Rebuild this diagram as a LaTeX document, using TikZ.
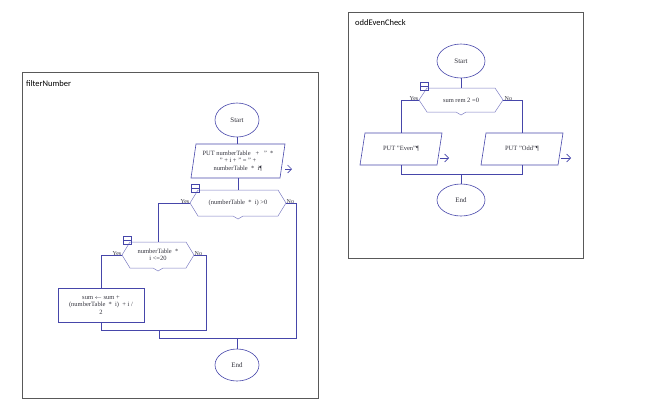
\documentclass[tikz,border=0pt]{standalone}
\usepackage{fontspec}
\setmainfont{Liberation Serif}
\newfontfamily\ttl{Carlito}
\usetikzlibrary{shapes.geometric,calc,arrows.meta}
\definecolor{fl}{RGB}{70,70,170}
\definecolor{tx}{RGB}{50,50,60}
\tikzset{
 x=1pt,y=-1pt,
 line/.style={draw=fl,line width=0.6pt},
 term/.style={ellipse,draw=fl,line width=0.6pt,text=tx,font=\fontsize{7}{8}\selectfont},
 io/.style={rectangle,text=tx,font=\fontsize{6.5}{7.5}\selectfont,align=center,inner sep=0pt},
 proc/.style={rectangle,draw=fl,line width=0.6pt,text=tx,font=\fontsize{6.5}{7.5}\selectfont,align=center},
 dec/.style={rectangle,text=tx,font=\fontsize{6.5}{7.5}\selectfont,align=center,inner sep=0pt},
 lab/.style={text=tx,font=\fontsize{6}{7}\selectfont,inner sep=0.5pt},
 frame/.style={draw=black!65,line width=0.7pt},
 title/.style={font=\ttl\fontsize{8.5}{10}\selectfont,anchor=west,inner sep=0pt},
 arr/.style={draw=fl,line width=0.6pt,-{Straight Barb[length=4pt,width=8pt]}},
}
\newcommand{\hexa}[5]{% name, cx, cy, halfwidth, halfheight
 \draw[draw=fl!70,line width=0.5pt] (#2-#4,#3) -- (#2-#4+8,#3-#5) -- (#2+#4-8,#3-#5) -- (#2+#4,#3) -- (#2+#4-8,#3+#5) -- (#2+5,#3+#5) -- (#2,#3+#5+3) -- (#2-5,#3+#5) -- (#2-#4+8,#3+#5) -- cycle;
 \draw[draw=fl,line width=0.5pt] (#2-#4+1,#3-#5-6) rectangle (#2-#4+9,#3-#5+2) (#2-#4+1,#3-#5-2) -- (#2-#4+9,#3-#5-2);}
\newcommand{\para}[4]{% cx, cy, halfwidth, halfheight
 \draw[line] (#1-#3,#2+#4) -- (#1-#3+5,#2-#4) -- (#1+#3,#2-#4) -- (#1+#3-5,#2+#4) -- cycle;}
\begin{document}
\begin{tikzpicture}
\useasboundingbox (0,0) rectangle (647,405);
% left frame
\draw[frame] (22,72) rectangle (318,398);
\node[title] (t1) at (26,84) {filterNumber};
\node[term,minimum width=44pt,minimum height=34pt] (s1) at (237,120) {Start};
\para{238}{161}{47}{17}
\node[io,minimum width=93pt,minimum height=34pt] (p1) at (238,161) {PUT numberTable \ \ + \ \ " \ *\\ " + i + " = " +\\ numberTable \ * \ i¶};
\coordinate (p1o) at (285,169);
\coordinate (p1e) at (292,169);
\draw[arr] (p1o) -- (p1e);
\hexa{d1}{238}{203}{48}{13}
\node[dec,minimum width=96pt,minimum height=26pt] (d1) at (238,203) {(numberTable \ * \ i) >0};
\node[lab,anchor=south east] (y1) at (190,204) {Yes};
\node[lab,anchor=south west] (n1) at (286,204) {No};
\hexa{d2}{158}{255}{36}{13}
\node[dec,minimum width=72pt,minimum height=26pt] (d2) at (158,255) {numberTable \ *\\ i <=20};
\node[lab,anchor=south east] (y2) at (122,256) {Yes};
\node[lab,anchor=south west] (n2) at (194,256) {No};
\node[proc,minimum width=86pt,minimum height=34pt] (r1) at (101,305) {sum $\leftarrow$ sum +\\ (numberTable \ * \ i) \ + i /\\ 2};
\node[term,minimum width=44pt,minimum height=32pt] (e1) at (237,365) {End};
\coordinate (m1) at (159,330);
\coordinate (m2) at (237,338);
\draw[line] (s1) -- (237,144);
\draw[line] (238,178) -- (238,190);
\draw[line] (d1.west) -| (d2.north);
\draw[line] (d1.east) -| (296,338) -- (m2);
\draw[line] (d2.west) -| (r1.north);
\draw[line] (d2.east) -| (206,330) -- (m1);
\draw[line] (r1.south) |- (m1) -- (159,338) -- (m2);
\draw[line] (m2) -- (e1.north);
% right frame
\draw[frame] (348,12) rectangle (583,258);
\node[title] (t2) at (355,23) {oddEvenCheck};
\node[term,minimum width=48pt,minimum height=34pt] (s2) at (461,61) {Start};
\hexa{d3}{461}{100}{42}{12}
\node[dec,minimum width=84pt,minimum height=24pt] (d3) at (461,100) {sum rem 2 =0};
\node[lab,anchor=south east] (y3) at (419,101) {Yes};
\node[lab,anchor=south west] (n3) at (504,101) {No};
\para{401}{149}{41}{16}
\para{522}{149}{41}{16}
\node[io,minimum width=80pt,minimum height=32pt] (pe) at (401,149) {PUT "Even"¶};
\node[io,minimum width=80pt,minimum height=32pt] (po) at (522,149) {PUT "Odd"¶};
\coordinate (peo) at (440,158);
\coordinate (pee) at (449,158);
\coordinate (poo) at (561,158);
\coordinate (poe) at (571,158);
\draw[arr] (peo) -- (pee);
\draw[arr] (poo) -- (poe);
\node[term,minimum width=48pt,minimum height=32pt] (e2) at (461,200) {End};
\coordinate (m3) at (461,174);
\draw[line] (s2) -- (461,88);
\draw[line] (d3.west) -| (pe.north);
\draw[line] (d3.east) -| (po.north);
\draw[line] (pe.south) |- (m3);
\draw[line] (po.south) |- (m3);
\draw[line] (m3) -- (e2.north);
\end{tikzpicture}
\end{document}
